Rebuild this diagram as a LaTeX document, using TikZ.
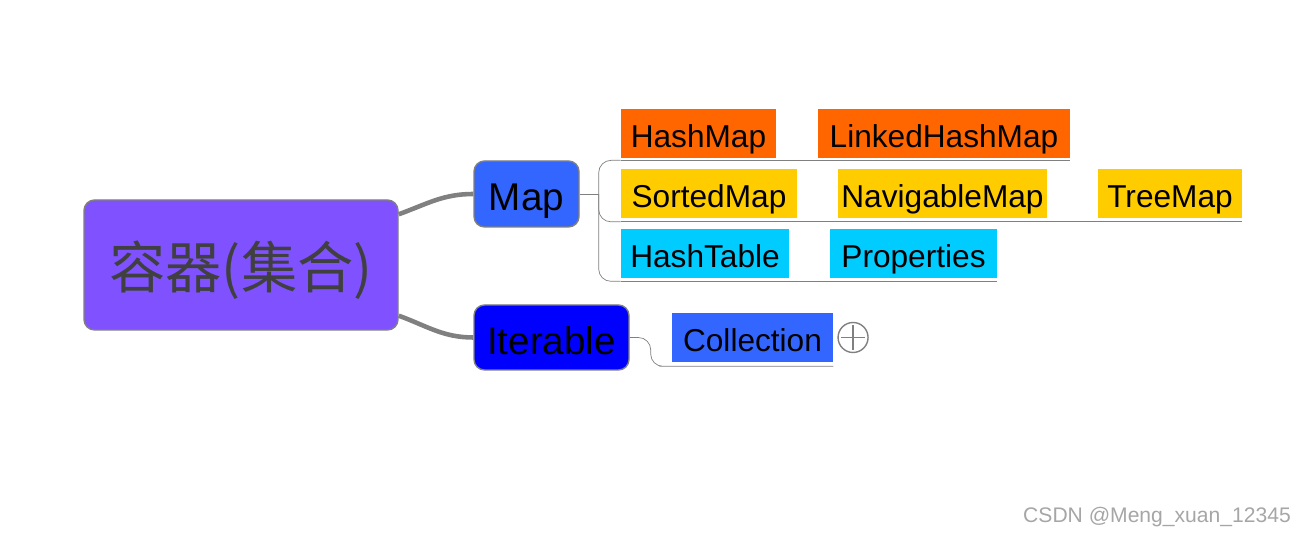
\documentclass[tikz,border=0pt]{standalone}
\usepackage{fontspec}
\setmainfont{Liberation Sans}
\newfontfamily\cjk{Noto Sans CJK SC}
\usetikzlibrary{positioning,calc}

\definecolor{rootviolet}{HTML}{8052FF}
\definecolor{mapblue}{HTML}{3366FF}
\definecolor{iterblue}{HTML}{0000FF}
\definecolor{hashorange}{HTML}{FF6600}
\definecolor{sortedyellow}{HTML}{FFCC00}
\definecolor{tablecyan}{HTML}{00CCFF}

\begin{document}
\begin{tikzpicture}[
    topic/.style={
        rectangle,
        draw=gray,
        thick,
        rounded corners=6pt,
        inner sep=0pt,
        text height=0.8cm,
        text depth=0.12cm,
        font=\fontsize{22}{26}\selectfont
    },
    leaf/.style={
        rectangle,
        inner sep=0pt,
        minimum height=0.98cm,
        text height=0.55cm,
        text depth=0cm,
        font=\fontsize{18}{21}\selectfont
    },
    trunk/.style={draw, gray, line width=2.6pt},
    branch/.style={draw, gray, thin, rounded corners=7pt},
    rule/.style={draw, gray, thin}
]
\useasboundingbox (0,0) rectangle (26.24,10.72);

% Central topic
\node [topic, fill=rootviolet, minimum width=6.28cm, minimum height=2.6cm, text height=1.1cm, text depth=0.15cm,
       text=black!75, font=\cjk\fontsize{32}{38}\selectfont] (root) at (4.82,5.42) {容器(集合)};

% Main topics
\node [topic, fill=mapblue, minimum width=2.1cm, minimum height=1.32cm] (map) at (10.53,6.84) {Map};
\node [topic, fill=iterblue, minimum width=3.1cm, minimum height=1.3cm] (iter) at (11.03,3.97) {Iterable};

% Map subtopics
\node [leaf, fill=hashorange, minimum width=3.1cm] (hashmap) at (13.97,8.05) {HashMap};
\node [leaf, fill=hashorange, minimum width=5.04cm] (linked) at (18.88,8.05) {LinkedHashMap};
\node [leaf, fill=sortedyellow, minimum width=3.52cm] (sorted) at (14.18,6.84) {SortedMap};
\node [leaf, fill=sortedyellow, minimum width=4.18cm] (navig) at (18.85,6.84) {NavigableMap};
\node [leaf, fill=sortedyellow, minimum width=2.88cm] (tree) at (23.4,6.84) {TreeMap};
\node [leaf, fill=tablecyan, minimum width=3.36cm] (table) at (14.1,5.65) {HashTable};
\node [leaf, fill=tablecyan, minimum width=3.34cm] (props) at (18.27,5.65) {Properties};

% Iterable subtopic
\node [leaf, fill=mapblue, minimum width=3.22cm] (coll) at (15.05,3.97) {Collection};
\node [circle, draw=gray, thick, minimum size=0.6cm, inner sep=0pt, right=0.08cm of coll] (expand) {};
\draw [gray, thick] ($(expand.west)+(0.07,0)$) -- ($(expand.east)+(-0.07,0)$)
                    ($(expand.north)+(0,-0.07)$) -- ($(expand.south)+(0,0.07)$);

% Trunks
\draw [trunk] ($(root.north east)+(0,-0.3)$) to [out=20, in=180] (map.west);
\draw [trunk] ($(root.south east)+(0,0.3)$) to [out=-20, in=180] (iter.west);

% Branches
\coordinate (mapfork) at ($(map.east)+(0.38,0)$);
\draw [rule] (map.east) -- (mapfork);
\draw [branch] ($(hashmap.south west)+(0,-0.04)$) -| (mapfork) |- ($(table.south west)+(0,-0.06)$);
\draw [branch] (mapfork) |- ($(sorted.south west)+(0,-0.06)$);
\draw [rule] ($(hashmap.south west)+(0,-0.04)$) -- ($(linked.south east)+(0,-0.04)$);
\draw [rule] ($(sorted.south west)+(0,-0.06)$) -- ($(tree.south east)+(0,-0.06)$);
\draw [rule] ($(table.south west)+(0,-0.06)$) -- ($(props.south east)+(0,-0.06)$);

\coordinate (iterfork) at ($(iter.east)+(0.42,0)$);
\draw [branch] (iter.east) -- (iterfork) |- ($(coll.south west)+(0,-0.08)$) -- ($(coll.south east)+(0,-0.08)$);

% Watermark
\node [text=gray!70, font=\fontsize{12}{14}\selectfont, anchor=east] (mark) at (25.94,0.38) {CSDN @Meng\_xuan\_12345};

\end{tikzpicture}
\end{document}
